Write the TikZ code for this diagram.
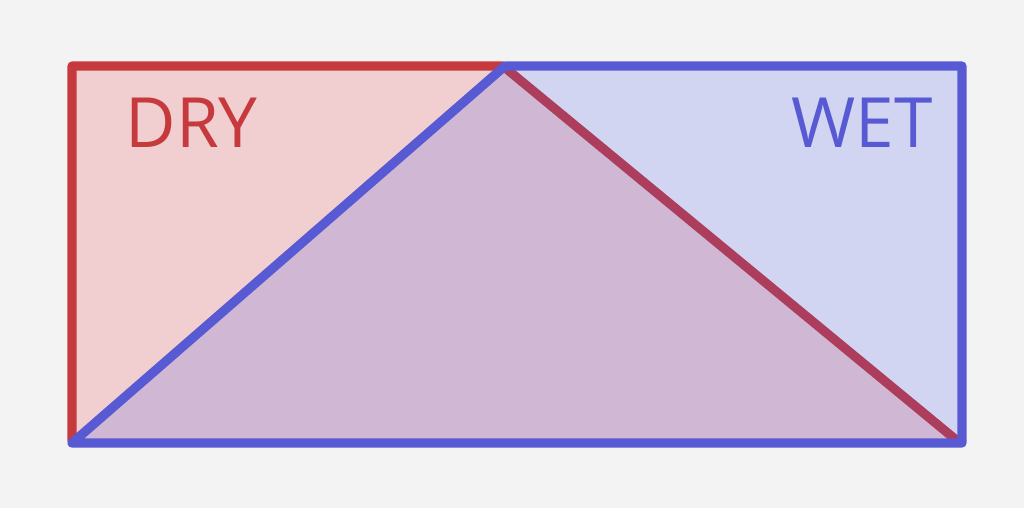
\documentclass[tikz,border=0pt]{standalone}
\usepackage{fontspec}
\setmainfont{Open Sans}
\definecolor{dryred}{RGB}{198,58,62}
\definecolor{wetblue}{RGB}{88,90,212}
\definecolor{dryfill}{RGB}{235,60,70}
\definecolor{wetfill}{RGB}{60,80,235}
\definecolor{bggray}{RGB}{243,243,243}
\tikzset{every picture/.style={line width=6.9pt}}
\tikzset{
  zone/.style={line join=round,line cap=round},
  label/.style={anchor=base west,inner sep=0pt,font=\fontsize{52}{52}\selectfont}
}
\begin{document}
\begin{tikzpicture}[x=0.75pt,y=0.75pt,yscale=-1,xscale=1]
%Background
\fill [bggray] (0,0) rectangle (1024,508);
\useasboundingbox (0,0) rectangle (1024,508);

%Shape: Dry region
\fill [dryfill,opacity=0.2] (72,441) -- (72,66) -- (503,66) -- (955,439) -- cycle ;
\draw [zone,draw=dryred] (72,441) -- (72,66) -- (503,66) -- (955,439) ;
%Shape: Wet region
\draw [zone,draw=wetblue,fill=wetfill,fill opacity=0.18] (72,443) -- (505,66) -- (962,66) -- (962,443) -- cycle ;

% Text Node
\node [label,text=dryred] (dry) at (121,147) {DRY};
% Text Node
\node [label,text=wetblue] (wet) at (787,147) {WET};

\end{tikzpicture}
\end{document}
